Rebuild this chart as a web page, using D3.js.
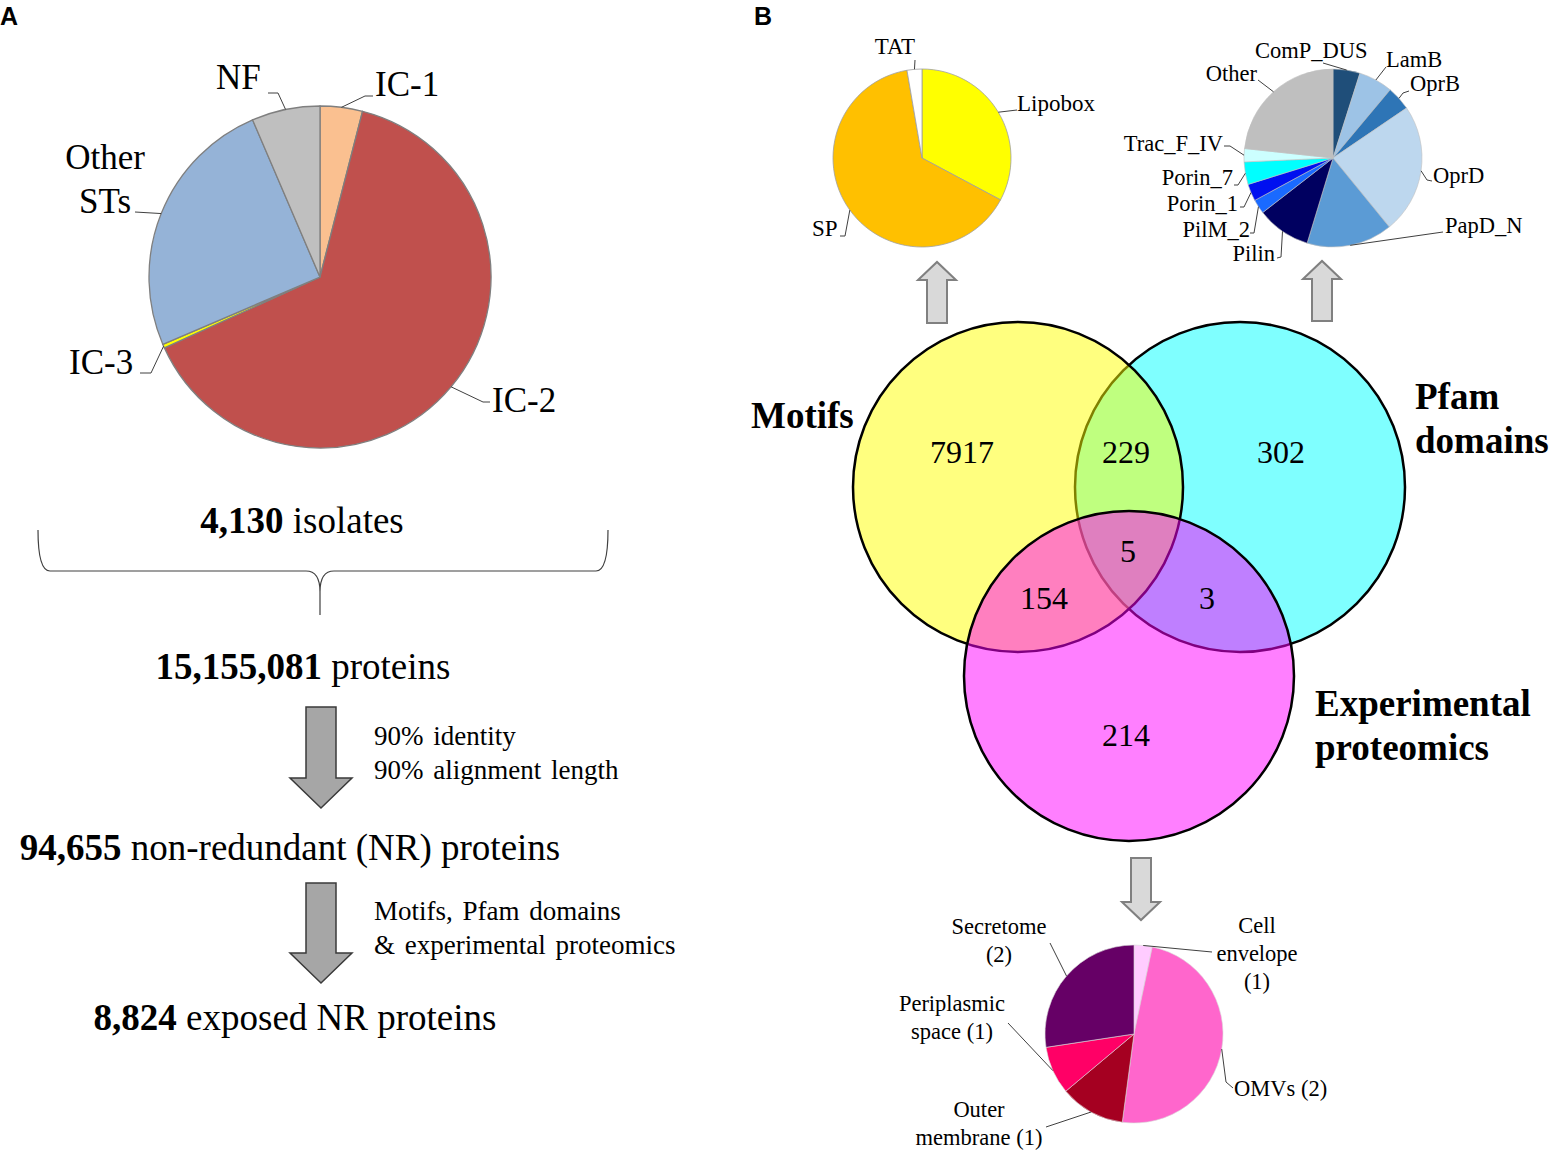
<!DOCTYPE html>
<html><head><meta charset="utf-8">
<script src="https://cdn.jsdelivr.net/npm/d3@7"></script>
<style>
body{margin:0;background:#fff}
svg{display:block}
text{font-family:"Liberation Serif","Times New Roman",serif;fill:#000}
</style>
</head><body><svg id="c" width="1552" height="1151"></svg>
<script>
// ---------------- DATA ----------------
// Panel A pie: sequence types among isolates (% of isolates)
const stLabels = ["IC-1", "IC-2", "IC-3", "Other STs", "NF"];
const stValues = [4.0, 64.2, 0.35, 25.0, 6.45];
const stColors = ["#FAC090", "#C0504D", "#FFFF00", "#95B3D7", "#BFBFBF"];

// Panel A flow texts
const flowBold = ["4,130", "15,155,081", "94,655", "8,824"];
const flowRest = [" isolates", " proteins", " non-redundant (NR) proteins", " exposed NR proteins"];
const stepNotes1 = ["90% identity", "90% alignment length"];
const stepNotes2 = ["Motifs, Pfam domains", "& experimental proteomics"];

// Panel B: motif pie
const motifLabels = ["Lipobox", "SP", "TAT"];
const motifValues = [32.8, 64.5, 2.7];
const motifColors = ["#FFFF00", "#FFC000", "#FFFFFF"];

// Panel B: Pfam domain pie
const pfamLabels = ["ComP_DUS", "LamB", "OprB", "OprD", "PapD_N", "Pilin", "PilM_2", "Porin_1", "Porin_7", "Trac_F_IV", "Other"];
const pfamValues = [4.9, 6.2, 4.4, 23.6, 15.6, 9.8, 2.6, 3.1, 4.1, 2.4, 23.3];
const pfamColors = ["#1F4E79", "#9DC3E6", "#2E75B6", "#BDD7EE", "#5B9BD5", "#000060", "#1A6AFF", "#0010F0", "#00FFFF", "#CCFFFF", "#BFBFBF"];

// Panel B: experimental proteomics pie
const protLabels = ["Cell envelope (1)", "OMVs (2)", "Outer membrane (1)", "Periplasmic space (1)", "Secretome (2)"];
const protValues = [3.3, 48.8, 11.8, 8.7, 27.4];
const protColors = ["#FFCCFF", "#FF66CC", "#A50021", "#FF0066", "#660066"];

// Panel B: Venn diagram
const vennSets = ["Motifs", "Pfam domains", "Experimental proteomics"];
const vennSetColors = ["#FFFF00", "#00FFFF", "#FF00FF"];
const vennRegions = ["M", "MP", "P", "MPE", "ME", "PE", "E"];
const vennCounts = [7917, 229, 302, 5, 154, 3, 214];

// ---------------- LAYOUT ----------------
const svg = d3.select("#c");
const LINE = "#404040";

function arrowPath(cx, y0, y1, headH, headW, shaftW) {
  const dir = y1 > y0 ? 1 : -1;
  const hb = y1 - dir * headH;
  return d3.line()([
    [cx - shaftW, y0], [cx + shaftW, y0], [cx + shaftW, hb], [cx + headW, hb],
    [cx, y1], [cx - headW, hb], [cx - shaftW, hb]
  ]) + "Z";
}

function drawPie(cfg) {
  const g = svg.append("g");
  const pie = d3.pie().sort(null).value(d => d)(cfg.values);
  const arc = d3.arc().innerRadius(0).outerRadius(cfg.r);
  const edge = d3.arc().innerRadius(cfg.r).outerRadius(cfg.r);
  g.selectAll("path.slice").data(pie).join("path")
    .attr("class", "slice")
    .attr("transform", `translate(${cfg.cx},${cfg.cy})`)
    .attr("d", arc)
    .attr("fill", (d, i) => cfg.colors[i])
    .attr("stroke", cfg.stroke).attr("stroke-width", cfg.strokeW);
  pie.forEach((d, i) => {
    const lay = cfg.layout[i];
    if (!lay) return;
    const c = edge.centroid(d);
    const pts = [[cfg.cx + c[0], cfg.cy + c[1]]].concat(lay.pts);
    g.append("path").attr("d", d3.line()(pts))
      .attr("fill", "none").attr("stroke", LINE).attr("stroke-width", 1);
    const t = g.append("text").attr("x", lay.x).attr("y", lay.y)
      .attr("text-anchor", lay.anchor || "start")
      .style("font-size", cfg.fs + "px");
    const lines = lay.lines || [cfg.labels[i]];
    lines.forEach((ln, k) => {
      t.append("tspan").attr("x", lay.x).attr("dy", k === 0 ? 0 : cfg.lh).text(ln);
    });
  });
}

// ---- Panel labels
svg.append("text").attr("x", 0).attr("y", 25).text("A")
  .style("font-family", "'Liberation Sans',Arial,sans-serif").style("font-weight", "bold").style("font-size", "25px");
svg.append("text").attr("x", 754).attr("y", 25).text("B")
  .style("font-family", "'Liberation Sans',Arial,sans-serif").style("font-weight", "bold").style("font-size", "25px");

// ---- Panel A pie
drawPie({
  cx: 320, cy: 277, r: 171, values: stValues, colors: stColors, labels: stLabels,
  stroke: "#7F7F7F", strokeW: 1.3, fs: 35, lh: 44,
  layout: [
    {x: 375, y: 96, pts: [[365, 96], [373, 96]]},
    {x: 492, y: 412, pts: [[483, 402], [490, 402]]},
    {x: 69, y: 374, pts: [[151, 373], [140, 373]]},
    {x: 105, y: 169, anchor: "middle", lines: ["Other", "STs"], pts: [[135, 212]]},
    {x: 216, y: 89, pts: [[278, 93], [268, 93]]}
  ]
});

// ---- Panel A flow
const flowY = [533, 679, 860, 1030];
const flowX = [302, 303, 290, 295];
flowBold.forEach((b, i) => {
  const t = svg.append("text").attr("x", flowX[i]).attr("y", flowY[i])
    .attr("text-anchor", "middle").style("font-size", "37px");
  t.append("tspan").style("font-weight", "bold").text(b);
  t.append("tspan").text(flowRest[i]);
});
// brace
svg.append("path")
  .attr("d", "M38,530 Q38,571 50,571 L306,571 Q320,571 320,592 L320,615 M608,530 Q608,571 596,571 L334,571 Q320,571 320,592")
  .attr("fill", "none").attr("stroke", LINE).attr("stroke-width", 1.2);
// grey arrows
[[707, 808], [883, 983]].forEach(([a, b]) => {
  svg.append("path").attr("d", arrowPath(321, a, b, 30, 31, 15))
    .attr("fill", "#A6A6A6").attr("stroke", "#3A3A3A").attr("stroke-width", 1.5);
});
[[stepNotes1, 745], [stepNotes2, 920]].forEach(([notes, y0]) => {
  notes.forEach((n, k) => {
    svg.append("text").attr("x", 374).attr("y", y0 + k * 34).text(n)
      .style("font-size", "27px").style("word-spacing", "3px");
  });
});

// ---- Panel B Venn
const vennCircles = [
  {cx: 1018, cy: 487, r: 165},   // Motifs
  {cx: 1240, cy: 487, r: 165},   // Pfam
  {cx: 1129, cy: 676, r: 165}    // Experimental
];
const drawOrder = [1, 0, 2];
drawOrder.forEach(i => {
  svg.append("circle").attr("cx", vennCircles[i].cx).attr("cy", vennCircles[i].cy).attr("r", vennCircles[i].r)
    .attr("fill", vennSetColors[i]).attr("fill-opacity", 0.5)
    .attr("stroke", "#000").attr("stroke-width", 2.5);
});
const regionPos = {M: [962, 463], MP: [1126, 463], P: [1281, 463], MPE: [1128, 562], ME: [1044, 609], PE: [1207, 609], E: [1126, 746]};
vennRegions.forEach((r, i) => {
  svg.append("text").attr("x", regionPos[r][0]).attr("y", regionPos[r][1])
    .attr("text-anchor", "middle").style("font-size", "32px").text(vennCounts[i]);
});
const setLabelLayout = [
  {x: 751, y: 428, lines: ["Motifs"]},
  {x: 1415, y: 409, lines: ["Pfam", "domains"]},
  {x: 1315, y: 716, lines: ["Experimental", "proteomics"]}
];
setLabelLayout.forEach((l, i) => {
  const t = svg.append("text").attr("x", l.x).attr("y", l.y)
    .style("font-size", "37px").style("font-weight", "bold");
  l.lines.forEach((ln, k) => t.append("tspan").attr("x", l.x).attr("dy", k ? 44 : 0).text(ln));
});

// hollow arrows
[[937, 323, 262], [1322, 321, 261], [1141, 858, 920]].forEach(([cx, a, b]) => {
  svg.append("path").attr("d", arrowPath(cx, a, b, 18, 19, 10))
    .attr("fill", "#D9D9D9").attr("stroke", "#808080").attr("stroke-width", 2);
});

// ---- Motif pie
drawPie({
  cx: 922, cy: 158, r: 89, values: motifValues, colors: motifColors, labels: motifLabels,
  stroke: "#A0A0A0", strokeW: 0.8, fs: 23, lh: 28,
  layout: [
    {x: 1017, y: 111, pts: [[1017, 110]]},
    {x: 812, y: 236, pts: [[845, 236], [840, 236]]},
    {x: 895, y: 54, anchor: "middle", pts: [[915, 60]]}
  ]
});

// ---- Pfam pie
drawPie({
  cx: 1333, cy: 158, r: 89, values: pfamValues, colors: pfamColors, labels: pfamLabels,
  stroke: "#BFBFBF", strokeW: 0.6, fs: 22.5, lh: 28,
  layout: [
    {x: 1255, y: 58, pts: [[1323, 63]]},
    {x: 1386, y: 67, pts: [[1386, 67]]},
    {x: 1410, y: 91, pts: [[1403, 93], [1409, 91]]},
    {x: 1433, y: 183, pts: [[1427, 180], [1432, 181]]},
    {x: 1445, y: 233, pts: [[1443, 232]]},
    {x: 1275, y: 261, anchor: "end", pts: [[1281, 257], [1277, 258]]},
    {x: 1250, y: 237, anchor: "end", pts: [[1254, 233], [1250, 233]]},
    {x: 1238, y: 211, anchor: "end", pts: [[1244, 207], [1240, 207]]},
    {x: 1233, y: 185, anchor: "end", pts: [[1238, 185], [1234, 185]]},
    {x: 1223, y: 151, anchor: "end", pts: [[1230, 146], [1224, 146]]},
    {x: 1257, y: 81, anchor: "end", pts: [[1258, 80]]}
  ]
});

// ---- Proteomics pie
drawPie({
  cx: 1134, cy: 1034, r: 89, values: protValues, colors: protColors, labels: protLabels,
  stroke: "#D9D9D9", strokeW: 0.6, fs: 22.5, lh: 28,
  layout: [
    {x: 1257, y: 933, anchor: "middle", lines: ["Cell", "envelope", "(1)"], pts: [[1212, 952]]},
    {x: 1234, y: 1096, pts: [[1226, 1082], [1233, 1088]]},
    {x: 979, y: 1117, anchor: "middle", lines: ["Outer", "membrane (1)"], pts: [[1046, 1127]]},
    {x: 952, y: 1011, anchor: "middle", lines: ["Periplasmic", "space (1)"], pts: [[1008, 1023]]},
    {x: 999, y: 934, anchor: "middle", lines: ["Secretome", "(2)"], pts: [[1050, 943]]}
  ]
});
</script>
</body></html>
